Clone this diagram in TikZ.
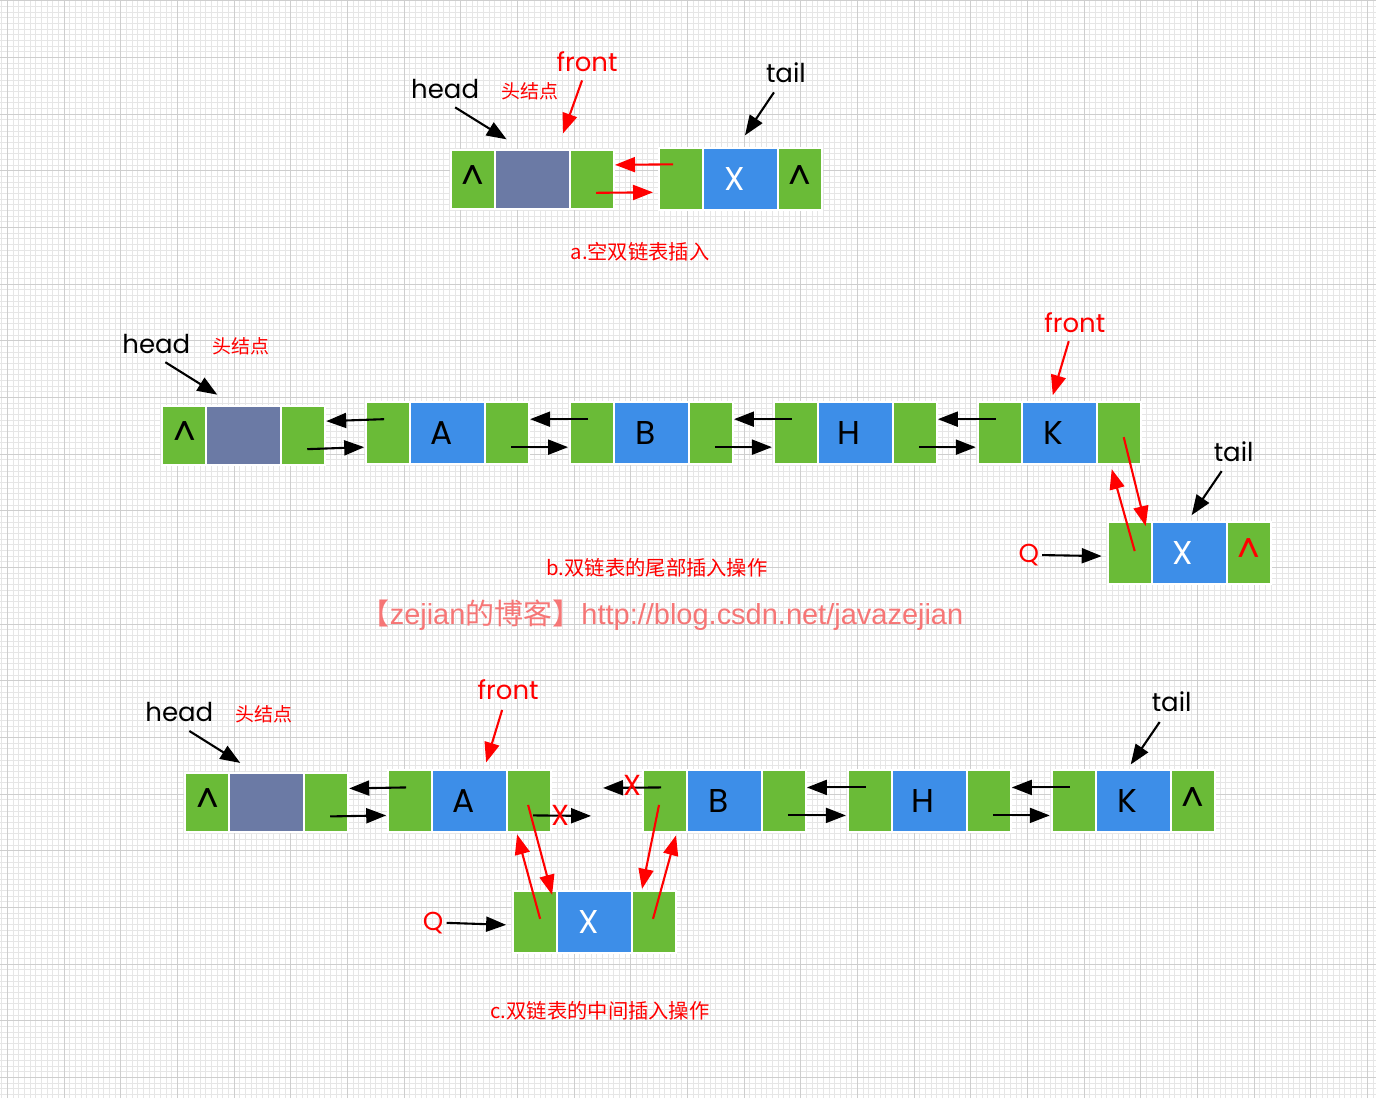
\documentclass[tikz,border=0pt]{standalone}
\usepackage{fontspec}
\setmainfont{Poppins}
\newfontfamily\cjk{Noto Sans CJK SC}
\newfontfamily\wmfont{Liberation Sans}
\usepackage{tikz}
\usetikzlibrary{positioning,arrows.meta}

\definecolor{cgreen}{RGB}{106,187,55}
\definecolor{cblue}{RGB}{61,142,232}
\definecolor{cgray}{RGB}{107,122,165}
\definecolor{wmred}{RGB}{246,118,118}
\definecolor{gridminor}{RGB}{230,230,230}
\definecolor{gridmajor}{RGB}{206,206,206}

\newcommand\nilmark{\raisebox{-0.33em}[0pt][0pt]{\fontsize{36}{40}\selectfont\textasciicircum}}
\newcommand\val[1]{\hspace*{-12pt}#1}

\tikzset{
    cell/.style={draw=white, line width=2pt, outer sep=0pt, inner sep=0pt, minimum height=62pt, font=\fontsize{33}{38}\selectfont},
    hhead/.style={minimum height=59pt},
    gcell/.style={cell, fill=cgreen, minimum width=44pt},
    bcell/.style={cell, fill=cblue, minimum width=75pt},
    hcell/.style={cell, fill=cgray, minimum width=75pt},
    arr/.style={line width=2.1pt, -{Triangle[length=20pt,width=15pt]}},
    rarr/.style={arr, red},
    lbl/.style={inner sep=0pt, font=\fontsize{26}{30}\selectfont},
    cjklbl/.style={inner sep=0pt, text=red, font=\cjk\fontsize{19}{22}\selectfont},
    capt/.style={inner sep=0pt, text=red, font=\cjk\fontsize{20.3}{24}\selectfont},
    xmark/.style={inner sep=0pt, text=red, font=\fontsize{29}{32}\selectfont}
}

\begin{document}
\begin{tikzpicture}[x=1pt, y=-1pt]
        \fill[white] (0,0) rectangle (1376,1098);
        \begin{scope}[shift={(7,0.3)}]
            \draw[gridminor, line width=0.8pt, step=5.67pt] (-7,-0.3) grid (1369,1097.7);
            \draw[gridmajor, line width=0.9pt, step=56.7pt] (-7,-0.3) grid (1369,1097.7);
        \end{scope}
        \useasboundingbox (0,0) rectangle (1376,1098);

        \node[gcell, hhead, anchor=west] (ha1) at (451,179.5) {\nilmark};
        \node[hcell, hhead, right=0pt of ha1] (ha2) {};
        \node[gcell, hhead, right=0pt of ha2] (ha3) {};
        \node[gcell, anchor=west] (xa1) at (659,179) {};
        \node[bcell, text=white, right=0pt of xa1] (xa2) {\val{X}};
        \node[gcell, right=0pt of xa2] (xa3) {\nilmark};
        \node[lbl] (heada) at (445,89) {head};
        \node[cjklbl] (hnodea) at (530,91) {头结点};
        \node[lbl, text=red] (fronta) at (587,61) {front};
        \node[lbl] (taila) at (786,72) {tail};
        \draw[arr] ([shift={(10,18)}]heada.center) -- ([shift={(-26,-11)}]ha2.north);
        \draw[rarr] ([shift={(-5,19)}]fronta.center) -- ([shift={(-29,-17)}]ha3.north);
        \draw[arr] ([shift={(-12,20)}]taila.center) -- ([shift={(4.5,-13)}]xa2.north);
        \draw[rarr] ([shift={(-8,-15)}]xa1.center) -- ([shift={(1,-15)}]ha3.east);
        \draw[rarr] ([shift={(4,13)}]ha3.center) -- ([shift={(-6,13)}]xa1.west);
        \node[capt] (capa) at (640,251) {a.空双链表插入};

        \node[gcell, hhead, anchor=west] (hb1) at (162,435) {\nilmark};
        \node[hcell, hhead, right=0pt of hb1] (hb2) {};
        \node[gcell, hhead, right=0pt of hb2] (hb3) {};
        \foreach \n/\x in {A/366, B/570, H/774, K/978} {
            \node[gcell, anchor=west] (b\n1) at (\x,433) {};
            \node[bcell, right=0pt of b\n1] (b\n2) {\val{\n}};
            \node[gcell, right=0pt of b\n2] (b\n3) {};
        }
        \foreach \p/\q in {hb/bA, bA/bB, bB/bH, bH/bK} {
            \draw[arr] ([xshift=-4pt,yshift=14pt]\q1.center) -- ([xshift=1pt,yshift=14pt]\p3.east);
            \draw[arr] ([xshift=4pt,yshift=-14pt]\p3.center) -- ([xshift=-2pt,yshift=-14pt]\q1.west);
        }
        \node[gcell, anchor=west] (xb1) at (1108,553) {};
        \node[bcell, text=white, right=0pt of xb1] (xb2) {\val{X}};
        \node[gcell, text=red, right=0pt of xb2] (xb3) {\nilmark};
        \node[lbl] (headb) at (156,344) {head};
        \node[cjklbl] (hnodeb) at (241,346) {头结点};
        \node[lbl, text=red] (frontb) at (1075,322) {front};
        \node[lbl] (tailb) at (1234,452) {tail};
        \node[lbl, text=red] (Qb) at (1029,555) {Q};
        \draw[arr] ([shift={(9,18)}]headb.center) -- ([shift={(-26.5,-11)}]hb2.north);
        \draw[rarr] ([shift={(-6,19)}]frontb.center) -- ([shift={(-6.5,-7)}]bK2.north);
        \draw[arr] ([shift={(-12,19)}]tailb.center) -- ([shift={(2.5,-7)}]xb2.north);
        \draw[arr] ([xshift=3pt]Qb.east) -- ([shift={(-6,3)}]xb1.west);
        \draw[rarr] ([shift={(5,4)}]bK3.center) -- ([shift={(16,4)}]xb1.north);
        \draw[rarr] ([shift={(5,-2)}]xb1.center) -- ([shift={(-7,5)}]bK3.south);
        \node[capt] (capb) at (657,568) {b.双链表的尾部插入操作};
        \node[inner sep=0pt, text=wmred, font=\wmfont\fontsize{29}{34}\selectfont] (mark) at (662,615) {{\cjk 【}zejian{\cjk 的博客】}http://blog.csdn.net/javazejian};

        \node[gcell, hhead, anchor=west] (hc1) at (185,802.5) {\nilmark};
        \node[hcell, hhead, right=0pt of hc1] (hc2) {};
        \node[gcell, hhead, right=0pt of hc2] (hc3) {};
        \foreach \n/\x in {A/388, B/643, H/848} {
            \node[gcell, anchor=west] (c\n1) at (\x,801.5) {};
            \node[bcell, right=0pt of c\n1] (c\n2) {\val{\n}};
            \node[gcell, right=0pt of c\n2] (c\n3) {};
        }
        \node[gcell, anchor=west] (cK1) at (1052,801.5) {};
        \node[bcell, right=0pt of cK1] (cK2) {\val{K}};
        \node[gcell, right=0pt of cK2] (cK3) {\nilmark};
        \foreach \p/\q in {hc/cA, cB/cH, cH/cK} {
            \draw[arr] ([xshift=-4pt,yshift=14pt]\q1.center) -- ([xshift=1pt,yshift=14pt]\p3.east);
            \draw[arr] ([xshift=4pt,yshift=-14pt]\p3.center) -- ([xshift=-2pt,yshift=-14pt]\q1.west);
        }
        \coordinate (cutf) at (591,816);
        \coordinate (cutb) at (603,788);
        \draw[arr] ([xshift=4pt,yshift=-14pt]cA3.center) -- (cutf);
        \draw[arr] ([xshift=-4pt,yshift=14pt]cB1.center) -- (cutb);
        \node[xmark] (xm1) at (560,815) {X};
        \node[xmark] (xm2) at (632,785) {X};
        \node[gcell, anchor=west] (xc1) at (513,922) {};
        \node[bcell, text=white, right=0pt of xc1] (xc2) {\val{X}};
        \node[gcell, right=0pt of xc2] (xc3) {};
        \node[lbl] (headc) at (179,712) {head};
        \node[cjklbl] (hnodec) at (264,714) {头结点};
        \node[lbl, text=red] (frontc) at (508,690) {front};
        \node[lbl] (tailc) at (1172,702) {tail};
        \node[lbl, text=red] (Qc) at (433,923) {Q};
        \draw[arr] ([shift={(10,19)}]headc.center) -- ([shift={(-26.5,-10)}]hc2.north);
        \draw[rarr] ([shift={(-6,20)}]frontc.center) -- ([shift={(16.5,-8)}]cA2.north);
        \draw[arr] ([shift={(-12,20)}]tailc.center) -- ([shift={(-2.5,-6)}]cK2.north);
        \draw[arr] ([xshift=3pt]Qc.east) -- ([shift={(-7,3)}]xc1.west);
        \draw[rarr] ([shift={(-1,3.5)}]cA3.center) -- ([shift={(17,4)}]xc1.north);
        \draw[rarr] ([shift={(5,-3)}]xc1.center) -- ([shift={(-12,2)}]cA3.south);
        \draw[rarr] ([shift={(-6,3.5)}]cB1.center) -- ([shift={(-12,-2)}]xc3.north);
        \draw[rarr] ([shift={(-1,-3)}]xc3.center) -- ([shift={(11,3)}]cB1.south);
        \node[capt] (capc) at (600,1011) {c.双链表的中间插入操作};
\end{tikzpicture}
\end{document}
